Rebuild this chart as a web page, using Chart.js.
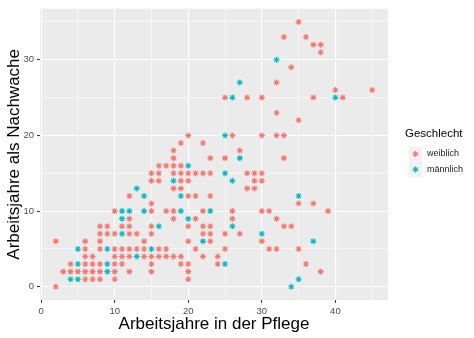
<!DOCTYPE html>
<html>
<head>
    <meta charset="utf-8">
    <title>Arbeitsjahre</title>
    <script src="https://cdn.jsdelivr.net/npm/chart.js"></script>
    <style>
        body {
            margin: 0;
            background: #ffffff;
        }
        #wrap {
            width: 474px;
            height: 338px;
        }
    </style>
</head>
<body>
<div id="wrap"><canvas id="scatterChart" width="474" height="338"></canvas></div>

<script>
    // Arbeitsjahre in der Pflege (x) / als Nachwache (y)
    const weiblichX = [2, 2, 3, 4, 4, 5, 6, 6, 6, 6, 6, 6, 7, 7, 7, 7,
        8, 8, 8, 8, 8, 8, 8, 9, 9, 10, 10, 10, 10, 10, 10, 10,
        11, 11, 11, 11, 12, 12, 12, 12, 12, 12, 12, 13, 13, 14, 14, 14,
        15, 15, 15, 15, 15, 15, 15, 15, 15, 16, 16, 16, 16, 16, 17, 17, 17, 17,
        18, 18, 18, 18, 18, 18, 18, 18, 19, 19, 19, 19, 19, 19, 19,
        20, 20, 20, 20, 20, 20, 20, 20, 20, 21, 21, 21, 21,
        22, 22, 22, 22, 22, 22, 23, 23, 23, 23, 23, 23, 24, 24,
        25, 25, 25, 25, 26, 26, 26, 27, 27, 28, 28, 28, 29, 29, 29,
        30, 30, 30, 30, 30, 30, 31, 31, 32, 32, 32, 32, 32,
        33, 33, 33, 33, 34, 34, 35, 35, 35, 35, 36, 36, 37, 37, 37,
        38, 38, 38, 39, 40, 41, 45];
    const weiblichY = [0, 6, 2, 2, 3, 2, 1, 2, 3, 4, 5, 6, 1, 2, 3, 4,
        1, 2, 3, 5, 6, 7, 8, 7, 8, 1, 2, 3, 4, 5, 7, 10,
        3, 4, 5, 8, 2, 4, 5, 7, 8, 9, 12, 5, 7, 4, 5, 6,
        2, 3, 4, 7, 8, 10, 11, 14, 15, 4, 5, 14, 15, 16, 4, 5, 10, 16,
        4, 9, 10, 13, 15, 16, 17, 18, 3, 4, 13, 14, 15, 16, 19,
        1, 2, 3, 6, 8, 12, 14, 15, 20, 5, 9, 12, 15,
        4, 7, 8, 10, 15, 19, 6, 7, 8, 12, 15, 17, 3, 4,
        5, 7, 17, 25, 9, 10, 20, 7, 18, 13, 15, 25, 13, 14, 15,
        6, 10, 14, 15, 20, 25, 5, 10, 5, 9, 20, 23, 27,
        8, 17, 20, 33, 8, 29, 5, 11, 22, 35, 3, 33, 11, 25, 32,
        2, 31, 32, 10, 26, 25, 26];

    const maennlichX = [4, 5, 5, 5, 9, 9, 9, 11, 11, 11, 12, 13, 13, 14, 14,
        15, 16, 18, 19, 19, 20, 20, 22, 23, 25, 25, 25, 26, 26, 26,
        27, 27, 30, 32, 34, 35, 35, 37, 40];
    const maennlichY = [1, 1, 3, 5, 2, 3, 5, 7, 9, 10, 10, 4, 13, 10, 12,
        5, 8, 14, 10, 12, 9, 16, 6, 10, 3, 15, 20, 8, 14, 25,
        17, 27, 7, 30, 0, 1, 12, 6, 25];

    const xTicks = [0, 5, 10, 15, 20, 25, 30, 35, 40, 45];
    const yTicks = [0, 5, 10, 15, 20, 25, 30, 35];

    const legendLabels = ['weiblich', 'männlich'];
    const legendTitle = 'Geschlecht';
    const pink = '#F8766D';
    const teal = '#00BFC4';

    const fontFamily = '"Liberation Sans", Arial, sans-serif';

    function toPoints(xs, ys) {
        return xs.map((x, i) => ({ x: x, y: ys[i] }));
    }

    function drawStar(ctx, x, y, r) {
        for (let a = 0; a < 4; a++) {
            const ang = a * Math.PI / 4;
            ctx.beginPath();
            ctx.moveTo(x - Math.cos(ang) * r, y - Math.sin(ang) * r);
            ctx.lineTo(x + Math.cos(ang) * r, y + Math.sin(ang) * r);
            ctx.stroke();
        }
    }

    // grey panel behind the grid
    const panelBg = {
        id: 'panelBg',
        beforeDraw(chart) {
            const { ctx, chartArea: a } = chart;
            ctx.save();
            ctx.fillStyle = '#EBEBEB';
            ctx.fillRect(a.left, a.top, a.right - a.left, a.bottom - a.top);
            ctx.restore();
        }
    };

    // ggplot style legend on the right
    const sideLegend = {
        id: 'sideLegend',
        afterDraw(chart) {
            const ctx = chart.ctx;
            const colors = [pink, teal];
            ctx.save();
            ctx.fillStyle = '#000000';
            ctx.font = '11.5px ' + fontFamily;
            ctx.textBaseline = 'middle';
            ctx.textAlign = 'left';
            ctx.fillText(legendTitle, 405, 134);
            legendLabels.forEach((lab, i) => {
                const cy = 154 + i * 15.5;
                ctx.fillStyle = '#F2F2F2';
                ctx.fillRect(409, cy - 7.5, 13, 15.5);
                ctx.strokeStyle = colors[i];
                ctx.lineWidth = 1.1;
                drawStar(ctx, 415.5, cy, 3);
                ctx.fillStyle = '#1a1a1a';
                ctx.font = '9px ' + fontFamily;
                ctx.fillText(lab, 427, cy);
            });
            ctx.restore();
        }
    };

    function gridWidth(c) {
        return c.tick && c.tick.value % 10 === 0 ? 1.1 : 0.55;
    }
    function tickCol(c) {
        return c.tick && c.tick.value % 10 === 0 ? '#333333' : 'rgba(0,0,0,0)';
    }

    new Chart(document.getElementById('scatterChart'), {
        type: 'scatter',
        data: {
            datasets: [{
                label: legendLabels[0],
                data: toPoints(weiblichX, weiblichY),
                pointStyle: 'star',
                pointRadius: 3,
                borderWidth: 1.1,
                borderColor: pink,
                backgroundColor: pink
            }, {
                label: legendLabels[1],
                data: toPoints(maennlichX, maennlichY),
                pointStyle: 'star',
                pointRadius: 3,
                borderWidth: 1.1,
                borderColor: teal,
                backgroundColor: teal
            }]
        },
        options: {
            responsive: false,
            animation: false,
            layout: {
                padding: { left: 0, right: 86, top: 5.5, bottom: 0 }
            },
            plugins: {
                legend: { display: false },
                tooltip: { enabled: false }
            },
            scales: {
                x: {
                    type: 'linear',
                    min: -0.15,
                    max: 47.15,
                    afterBuildTicks: s => { s.ticks = xTicks.map(v => ({ value: v })); },
                    afterFit: s => { s.height = 38; },
                    border: { display: false },
                    grid: {
                        color: '#ffffff',
                        lineWidth: gridWidth,
                        tickColor: tickCol,
                        tickLength: 3,
                        tickWidth: 1
                    },
                    ticks: {
                        autoSkip: false,
                        maxRotation: 0,
                        padding: 3,
                        color: '#4D4D4D',
                        font: { family: fontFamily, size: 9.5 },
                        callback: v => (v % 10 === 0 ? v : '')
                    },
                    title: {
                        display: true,
                        text: 'Arbeitsjahre in der Pflege',
                        color: '#000000',
                        font: { family: fontFamily, size: 17, lineHeight: 1.2 },
                        padding: { top: 0, bottom: 3 }
                    }
                },
                y: {
                    type: 'linear',
                    min: -1.75,
                    max: 36.75,
                    afterBuildTicks: s => { s.ticks = yTicks.map(v => ({ value: v })); },
                    afterFit: s => { s.width = 40; },
                    border: { display: false },
                    grid: {
                        color: '#ffffff',
                        lineWidth: gridWidth,
                        tickColor: tickCol,
                        tickLength: 3,
                        tickWidth: 1
                    },
                    ticks: {
                        autoSkip: false,
                        padding: 3,
                        color: '#4D4D4D',
                        font: { family: fontFamily, size: 9.5 },
                        callback: v => (v % 10 === 0 ? v : '')
                    },
                    title: {
                        display: true,
                        text: 'Arbeitsjahre als Nachwache',
                        color: '#000000',
                        font: { family: fontFamily, size: 17, lineHeight: 1.2 },
                        padding: { top: 4, bottom: 0 }
                    }
                }
            }
        },
        plugins: [panelBg, sideLegend]
    });
</script>
</body>
</html>
